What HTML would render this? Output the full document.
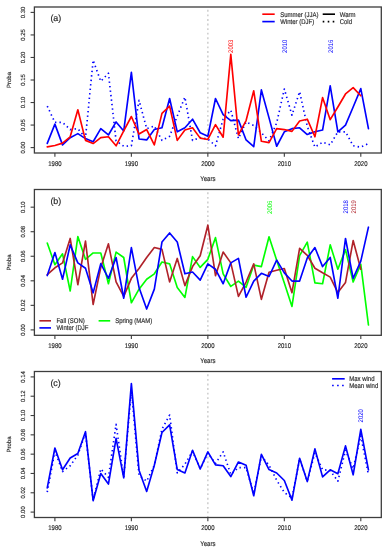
<!DOCTYPE html>
<html><head><meta charset="utf-8"><style>html,body{margin:0;padding:0;background:#fff;width:389px;height:550px;overflow:hidden}svg{display:block;will-change:transform;text-rendering:geometricPrecision}</style></head><body>
<svg width="389" height="550" viewBox="0 0 389 550">
<style>.t{font-family:"Liberation Sans",sans-serif;font-size:6px;fill:#2a2a2a;stroke:#2a2a2a;stroke-width:0.14}.r{font-family:"Liberation Sans",sans-serif;font-size:5.9px}.p{font-family:"Liberation Sans",sans-serif;font-size:8.9px;fill:#222;stroke:#222;stroke-width:0.15}</style>
<defs><filter id="bl" x="-5%" y="-5%" width="110%" height="110%"><feGaussianBlur stdDeviation="0.35"/></filter></defs>
<rect width="389" height="550" fill="#fff"/>
<g filter="url(#bl)">
<line x1="207.85" y1="9.85" x2="207.85" y2="152.50" stroke="#cdcdcd" stroke-width="1.5" stroke-dasharray="1.9 2.67"/>
<line x1="30.60" y1="147.59" x2="34.40" y2="147.59" stroke="#3c3c3c" stroke-width="1.1"/>
<text transform="translate(25.2,147.59) rotate(-90)" text-anchor="middle" class="t">0.00</text>
<line x1="30.60" y1="125.06" x2="34.40" y2="125.06" stroke="#3c3c3c" stroke-width="1.1"/>
<text transform="translate(25.2,125.06) rotate(-90)" text-anchor="middle" class="t">0.05</text>
<line x1="30.60" y1="102.53" x2="34.40" y2="102.53" stroke="#3c3c3c" stroke-width="1.1"/>
<text transform="translate(25.2,102.53) rotate(-90)" text-anchor="middle" class="t">0.10</text>
<line x1="30.60" y1="80.00" x2="34.40" y2="80.00" stroke="#3c3c3c" stroke-width="1.1"/>
<text transform="translate(25.2,80.00) rotate(-90)" text-anchor="middle" class="t">0.15</text>
<line x1="30.60" y1="57.47" x2="34.40" y2="57.47" stroke="#3c3c3c" stroke-width="1.1"/>
<text transform="translate(25.2,57.47) rotate(-90)" text-anchor="middle" class="t">0.20</text>
<line x1="30.60" y1="34.94" x2="34.40" y2="34.94" stroke="#3c3c3c" stroke-width="1.1"/>
<text transform="translate(25.2,34.94) rotate(-90)" text-anchor="middle" class="t">0.25</text>
<line x1="30.60" y1="12.41" x2="34.40" y2="12.41" stroke="#3c3c3c" stroke-width="1.1"/>
<text transform="translate(25.2,12.41) rotate(-90)" text-anchor="middle" class="t">0.30</text>
<line x1="54.90" y1="153.00" x2="54.90" y2="156.80" stroke="#3c3c3c" stroke-width="1.1"/>
<text transform="translate(54.90,165.80) scale(1,1.15)" text-anchor="middle" class="t">1980</text>
<line x1="131.37" y1="153.00" x2="131.37" y2="156.80" stroke="#3c3c3c" stroke-width="1.1"/>
<text transform="translate(131.37,165.80) scale(1,1.15)" text-anchor="middle" class="t">1990</text>
<line x1="207.85" y1="153.00" x2="207.85" y2="156.80" stroke="#3c3c3c" stroke-width="1.1"/>
<text transform="translate(207.85,165.80) scale(1,1.15)" text-anchor="middle" class="t">2000</text>
<line x1="284.33" y1="153.00" x2="284.33" y2="156.80" stroke="#3c3c3c" stroke-width="1.1"/>
<text transform="translate(284.33,165.80) scale(1,1.15)" text-anchor="middle" class="t">2010</text>
<line x1="360.80" y1="153.00" x2="360.80" y2="156.80" stroke="#3c3c3c" stroke-width="1.1"/>
<text transform="translate(360.80,165.80) scale(1,1.15)" text-anchor="middle" class="t">2020</text>
<text transform="translate(207.85,181.10) scale(1,1.15)" text-anchor="middle" class="t">Years</text>
<text transform="translate(10.9,80.00) rotate(-90)" text-anchor="middle" class="t">Proba</text>
<rect x="34.40" y="7.00" width="346.90" height="146.00" fill="none" stroke="#3c3c3c" stroke-width="1.3"/>
<polyline points="47.25,106.14 54.90,122.36 62.54,122.36 70.19,129.57 77.84,128.67 85.49,137.68 93.13,60.17 100.78,81.35 108.43,73.24 116.08,140.83 123.73,146.24 131.37,145.79 139.02,100.28 146.67,128.67 154.32,125.96 161.96,140.38 169.61,136.33 177.26,116.05 184.91,97.12 192.55,140.38 200.20,137.68 207.85,139.03 215.50,145.79 223.15,119.20 230.79,110.19 238.44,138.58 246.09,121.91 253.74,125.51 261.38,132.72 269.03,140.83 276.68,122.81 284.33,89.01 291.97,115.15 299.62,91.72 307.27,126.41 314.92,147.14 322.57,142.19 330.21,144.89 337.86,131.82 345.51,131.82 353.16,145.79 360.80,147.14 368.45,143.54" fill="none" stroke="#0000ff" stroke-width="1.65" stroke-linejoin="round" stroke-linecap="butt" stroke-dasharray="1.4 3.1"/>
<polyline points="47.25,143.40 54.90,124.16 62.54,144.89 70.19,137.68 77.84,133.62 85.49,138.58 93.13,141.73 100.78,128.67 108.43,134.98 116.08,121.91 123.73,130.92 131.37,72.34 139.02,139.03 146.67,139.93 154.32,129.57 161.96,127.77 169.61,98.48 177.26,131.82 184.91,127.77 192.55,119.20 200.20,132.72 207.85,136.33 215.50,98.48 223.15,114.70 230.79,120.56 238.44,120.10 246.09,139.93 253.74,146.69 261.38,89.91 269.03,117.85 276.68,146.24 284.33,131.82 291.97,128.67 299.62,127.77 307.27,134.52 314.92,131.82 322.57,130.02 330.21,85.86 337.86,131.82 345.51,125.06 353.16,107.04 360.80,88.56 368.45,128.67" fill="none" stroke="#0000ff" stroke-width="1.65" stroke-linejoin="round" stroke-linecap="round"/>
<polyline points="47.25,146.92 54.90,145.52 62.54,143.09 70.19,136.78 77.84,109.74 85.49,140.38 93.13,143.54 100.78,137.68 108.43,136.78 116.08,145.79 123.73,130.92 131.37,116.50 139.02,134.07 146.67,129.57 154.32,144.89 161.96,113.35 169.61,106.14 177.26,140.38 184.91,130.02 192.55,127.77 200.20,138.13 207.85,139.48 215.50,124.61 223.15,137.23 230.79,54.31 238.44,134.98 246.09,120.56 253.74,90.81 261.38,141.28 269.03,142.64 276.68,128.67 284.33,129.57 291.97,131.37 299.62,121.01 307.27,119.20 314.92,136.78 322.57,97.57 330.21,119.65 337.86,107.04 345.51,93.97 353.16,87.66 360.80,95.77" fill="none" stroke="#ff0000" stroke-width="1.65" stroke-linejoin="round" stroke-linecap="round"/>
<text x="50.4" y="21.4" class="p">(a)</text>
<line x1="262.3" y1="14.2" x2="274.7" y2="14.2" stroke="#ff0000" stroke-width="1.65"/>
<line x1="262.3" y1="21.6" x2="274.7" y2="21.6" stroke="#0000ff" stroke-width="1.65"/>
<text transform="translate(280.2,16.79) scale(1,1.15)" class="t">Summer (JJA)</text>
<text transform="translate(280.2,24.19) scale(1,1.15)" class="t">Winter (DJF)</text>
<line x1="322.7" y1="14.2" x2="335" y2="14.2" stroke="#000" stroke-width="1.65"/>
<line x1="322.7" y1="21.6" x2="335" y2="21.6" stroke="#000" stroke-width="1.65" stroke-dasharray="1.6 3.4"/>
<text transform="translate(339.7,16.79) scale(1,1.15)" class="t">Warm</text>
<text transform="translate(339.7,24.19) scale(1,1.15)" class="t">Cold</text>
<text transform="translate(233.38,52.90) rotate(-90) scale(1,1.15)" class="r" style="fill:#ff0000">2003</text>
<text transform="translate(286.91,52.90) rotate(-90) scale(1,1.15)" class="r" style="fill:#0000ff">2010</text>
<text transform="translate(332.80,52.90) rotate(-90) scale(1,1.15)" class="r" style="fill:#0000ff">2016</text>
<line x1="207.85" y1="192.35" x2="207.85" y2="334.80" stroke="#cdcdcd" stroke-width="1.5" stroke-dasharray="1.9 2.67"/>
<line x1="30.60" y1="329.90" x2="34.40" y2="329.90" stroke="#3c3c3c" stroke-width="1.1"/>
<text transform="translate(25.2,329.90) rotate(-90)" text-anchor="middle" class="t">0.00</text>
<line x1="30.60" y1="305.35" x2="34.40" y2="305.35" stroke="#3c3c3c" stroke-width="1.1"/>
<text transform="translate(25.2,305.35) rotate(-90)" text-anchor="middle" class="t">0.02</text>
<line x1="30.60" y1="280.81" x2="34.40" y2="280.81" stroke="#3c3c3c" stroke-width="1.1"/>
<text transform="translate(25.2,280.81) rotate(-90)" text-anchor="middle" class="t">0.04</text>
<line x1="30.60" y1="256.26" x2="34.40" y2="256.26" stroke="#3c3c3c" stroke-width="1.1"/>
<text transform="translate(25.2,256.26) rotate(-90)" text-anchor="middle" class="t">0.06</text>
<line x1="30.60" y1="231.72" x2="34.40" y2="231.72" stroke="#3c3c3c" stroke-width="1.1"/>
<text transform="translate(25.2,231.72) rotate(-90)" text-anchor="middle" class="t">0.08</text>
<line x1="30.60" y1="207.17" x2="34.40" y2="207.17" stroke="#3c3c3c" stroke-width="1.1"/>
<text transform="translate(25.2,207.17) rotate(-90)" text-anchor="middle" class="t">0.10</text>
<line x1="54.90" y1="335.30" x2="54.90" y2="339.10" stroke="#3c3c3c" stroke-width="1.1"/>
<text transform="translate(54.90,348.10) scale(1,1.15)" text-anchor="middle" class="t">1980</text>
<line x1="131.37" y1="335.30" x2="131.37" y2="339.10" stroke="#3c3c3c" stroke-width="1.1"/>
<text transform="translate(131.37,348.10) scale(1,1.15)" text-anchor="middle" class="t">1990</text>
<line x1="207.85" y1="335.30" x2="207.85" y2="339.10" stroke="#3c3c3c" stroke-width="1.1"/>
<text transform="translate(207.85,348.10) scale(1,1.15)" text-anchor="middle" class="t">2000</text>
<line x1="284.33" y1="335.30" x2="284.33" y2="339.10" stroke="#3c3c3c" stroke-width="1.1"/>
<text transform="translate(284.33,348.10) scale(1,1.15)" text-anchor="middle" class="t">2010</text>
<line x1="360.80" y1="335.30" x2="360.80" y2="339.10" stroke="#3c3c3c" stroke-width="1.1"/>
<text transform="translate(360.80,348.10) scale(1,1.15)" text-anchor="middle" class="t">2020</text>
<text transform="translate(207.85,363.40) scale(1,1.15)" text-anchor="middle" class="t">Years</text>
<text transform="translate(10.9,262.40) rotate(-90)" text-anchor="middle" class="t">Proba</text>
<rect x="34.40" y="189.50" width="346.90" height="145.80" fill="none" stroke="#3c3c3c" stroke-width="1.3"/>
<polyline points="47.25,243.01 54.90,264.73 62.54,253.81 70.19,291.00 77.84,236.63 85.49,259.33 93.13,252.95 100.78,252.95 108.43,283.75 116.08,252.09 123.73,257.49 131.37,302.78 139.02,289.15 146.67,279.21 154.32,273.81 161.96,262.03 169.61,263.87 177.26,287.44 184.91,297.38 192.55,256.63 200.20,267.43 207.85,259.33 215.50,237.61 223.15,273.81 230.79,286.45 238.44,281.05 246.09,287.31 253.74,265.10 261.38,266.57 269.03,236.75 276.68,260.19 284.33,282.90 291.97,306.46 299.62,255.65 307.27,242.15 314.92,282.90 322.57,283.75 330.21,244.85 337.86,269.27 345.51,249.64 353.16,282.04 360.80,264.36 368.45,324.99" fill="none" stroke="#00ff00" stroke-width="1.65" stroke-linejoin="round" stroke-linecap="round"/>
<polyline points="47.25,274.67 54.90,267.80 62.54,262.89 70.19,238.47 77.84,284.74 85.49,241.17 93.13,304.50 100.78,267.43 108.43,243.87 116.08,281.91 123.73,296.40 131.37,278.35 139.02,268.41 146.67,257.49 154.32,247.55 161.96,249.39 169.61,281.91 177.26,258.47 184.91,285.60 192.55,266.57 200.20,255.77 207.85,225.21 215.50,275.65 223.15,252.09 230.79,262.89 238.44,296.40 246.09,282.04 253.74,263.87 261.38,299.34 269.03,272.22 276.68,270.25 284.33,268.54 291.97,292.71 299.62,248.41 307.27,255.28 314.92,268.29 322.57,272.83 330.21,277.13 337.86,292.59 345.51,282.40 353.16,240.55 360.80,269.27" fill="none" stroke="#b0222a" stroke-width="1.65" stroke-linejoin="round" stroke-linecap="round"/>
<polyline points="47.25,275.53 54.90,252.58 62.54,279.21 70.19,244.85 77.84,262.89 85.49,268.29 93.13,292.84 100.78,263.63 108.43,278.35 116.08,257.49 123.73,298.24 131.37,247.55 139.02,287.44 146.67,309.04 154.32,289.15 161.96,242.03 169.61,232.95 177.26,242.03 184.91,273.81 192.55,271.97 200.20,280.07 207.85,263.87 215.50,269.27 223.15,283.75 230.79,262.89 238.44,258.35 246.09,297.25 253.74,281.05 261.38,273.32 269.03,276.51 276.68,260.19 284.33,272.83 291.97,281.05 299.62,281.05 307.27,258.10 314.92,247.55 322.57,266.57 330.21,257.49 337.86,298.24 345.51,238.47 353.16,278.35 360.80,261.17 368.45,227.18" fill="none" stroke="#0000ff" stroke-width="1.65" stroke-linejoin="round" stroke-linecap="round"/>
<text x="50.4" y="203.9" class="p">(b)</text>
<line x1="39.4" y1="320.8" x2="51" y2="320.8" stroke="#b0222a" stroke-width="1.65"/>
<line x1="39.4" y1="327.9" x2="51" y2="327.9" stroke="#0000ff" stroke-width="1.65"/>
<text transform="translate(56.4,323.39) scale(1,1.15)" class="t">Fall (SON)</text>
<text transform="translate(56.4,330.49) scale(1,1.15)" class="t">Winter (DJF</text>
<line x1="98.6" y1="320.8" x2="110.2" y2="320.8" stroke="#00ff00" stroke-width="1.65"/>
<text transform="translate(115.2,323.39) scale(1,1.15)" class="t">Spring (MAM)</text>
<text transform="translate(271.62,213.90) rotate(-90) scale(1,1.15)" class="r" style="fill:#00ff00">2006</text>
<text transform="translate(348.10,213.40) rotate(-90) scale(1,1.15)" class="r" style="fill:#0000ff">2018</text>
<text transform="translate(355.74,213.40) rotate(-90) scale(1,1.15)" class="r" style="fill:#b0222a">2019</text>
<line x1="207.85" y1="374.35" x2="207.85" y2="517.00" stroke="#cdcdcd" stroke-width="1.5" stroke-dasharray="1.9 2.67"/>
<line x1="30.60" y1="512.09" x2="34.40" y2="512.09" stroke="#3c3c3c" stroke-width="1.1"/>
<text transform="translate(25.2,512.09) rotate(-90)" text-anchor="middle" class="t">0.00</text>
<line x1="30.60" y1="492.78" x2="34.40" y2="492.78" stroke="#3c3c3c" stroke-width="1.1"/>
<text transform="translate(25.2,492.78) rotate(-90)" text-anchor="middle" class="t">0.02</text>
<line x1="30.60" y1="473.47" x2="34.40" y2="473.47" stroke="#3c3c3c" stroke-width="1.1"/>
<text transform="translate(25.2,473.47) rotate(-90)" text-anchor="middle" class="t">0.04</text>
<line x1="30.60" y1="454.16" x2="34.40" y2="454.16" stroke="#3c3c3c" stroke-width="1.1"/>
<text transform="translate(25.2,454.16) rotate(-90)" text-anchor="middle" class="t">0.06</text>
<line x1="30.60" y1="434.84" x2="34.40" y2="434.84" stroke="#3c3c3c" stroke-width="1.1"/>
<text transform="translate(25.2,434.84) rotate(-90)" text-anchor="middle" class="t">0.08</text>
<line x1="30.60" y1="415.53" x2="34.40" y2="415.53" stroke="#3c3c3c" stroke-width="1.1"/>
<text transform="translate(25.2,415.53) rotate(-90)" text-anchor="middle" class="t">0.10</text>
<line x1="30.60" y1="396.22" x2="34.40" y2="396.22" stroke="#3c3c3c" stroke-width="1.1"/>
<text transform="translate(25.2,396.22) rotate(-90)" text-anchor="middle" class="t">0.12</text>
<line x1="30.60" y1="376.91" x2="34.40" y2="376.91" stroke="#3c3c3c" stroke-width="1.1"/>
<text transform="translate(25.2,376.91) rotate(-90)" text-anchor="middle" class="t">0.14</text>
<line x1="54.90" y1="517.50" x2="54.90" y2="521.30" stroke="#3c3c3c" stroke-width="1.1"/>
<text transform="translate(54.90,530.30) scale(1,1.15)" text-anchor="middle" class="t">1980</text>
<line x1="131.37" y1="517.50" x2="131.37" y2="521.30" stroke="#3c3c3c" stroke-width="1.1"/>
<text transform="translate(131.37,530.30) scale(1,1.15)" text-anchor="middle" class="t">1990</text>
<line x1="207.85" y1="517.50" x2="207.85" y2="521.30" stroke="#3c3c3c" stroke-width="1.1"/>
<text transform="translate(207.85,530.30) scale(1,1.15)" text-anchor="middle" class="t">2000</text>
<line x1="284.33" y1="517.50" x2="284.33" y2="521.30" stroke="#3c3c3c" stroke-width="1.1"/>
<text transform="translate(284.33,530.30) scale(1,1.15)" text-anchor="middle" class="t">2010</text>
<line x1="360.80" y1="517.50" x2="360.80" y2="521.30" stroke="#3c3c3c" stroke-width="1.1"/>
<text transform="translate(360.80,530.30) scale(1,1.15)" text-anchor="middle" class="t">2020</text>
<text transform="translate(207.85,545.60) scale(1,1.15)" text-anchor="middle" class="t">Years</text>
<text transform="translate(10.9,444.50) rotate(-90)" text-anchor="middle" class="t">Proba</text>
<rect x="34.40" y="371.50" width="346.90" height="146.00" fill="none" stroke="#3c3c3c" stroke-width="1.3"/>
<polyline points="47.25,492.10 54.90,451.26 62.54,471.54 70.19,465.74 77.84,455.12 85.49,432.91 93.13,500.51 100.78,468.93 108.43,477.33 116.08,424.42 123.73,477.33 131.37,390.04 139.02,475.40 146.67,481.19 154.32,465.26 161.96,429.05 169.61,415.05 177.26,472.99 184.91,464.20 192.55,451.26 200.20,468.64 207.85,453.19 215.50,463.52 223.15,451.84 230.79,474.43 238.44,467.67 246.09,467.67 253.74,493.75 261.38,456.09 269.03,465.26 276.68,480.23 284.33,492.49 291.97,497.99 299.62,458.98 307.27,481.19 314.92,452.80 322.57,469.61 330.21,470.57 337.86,481.19 345.51,450.29 353.16,468.64 360.80,435.81 368.45,474.82" fill="none" stroke="#0000ff" stroke-width="1.65" stroke-linejoin="round" stroke-linecap="butt" stroke-dasharray="1.4 3.1"/>
<polyline points="47.25,487.95 54.90,447.98 62.54,469.80 70.19,458.02 77.84,453.48 85.49,431.66 93.13,500.70 100.78,473.47 108.43,484.09 116.08,438.32 123.73,477.81 131.37,383.67 139.02,470.19 146.67,491.43 154.32,465.26 161.96,432.53 169.61,424.90 177.26,469.61 184.91,472.99 192.55,450.29 200.20,469.03 207.85,451.84 215.50,464.87 223.15,465.74 230.79,476.56 238.44,461.98 246.09,465.26 253.74,495.77 261.38,454.35 269.03,469.61 276.68,472.99 284.33,480.52 291.97,500.12 299.62,458.21 307.27,481.58 314.92,448.85 322.57,476.85 330.21,469.80 337.86,473.76 345.51,445.85 353.16,474.82 360.80,429.34 368.45,469.80" fill="none" stroke="#0000ff" stroke-width="1.65" stroke-linejoin="round" stroke-linecap="round"/>
<text x="50.4" y="386.4" class="p">(c)</text>
<line x1="332.1" y1="378.8" x2="344.7" y2="378.8" stroke="#0000ff" stroke-width="1.65"/>
<line x1="332.1" y1="385.5" x2="344.7" y2="385.5" stroke="#0000ff" stroke-width="1.65" stroke-dasharray="1.6 3.4"/>
<text transform="translate(349.2,381.39) scale(1,1.15)" class="t">Max wind</text>
<text transform="translate(349.2,388.09) scale(1,1.15)" class="t">Mean wind</text>
<text transform="translate(363.39,422.40) rotate(-90) scale(1,1.15)" class="r" style="fill:#0000ff">2020</text>
</g>
</svg>
</body></html>
